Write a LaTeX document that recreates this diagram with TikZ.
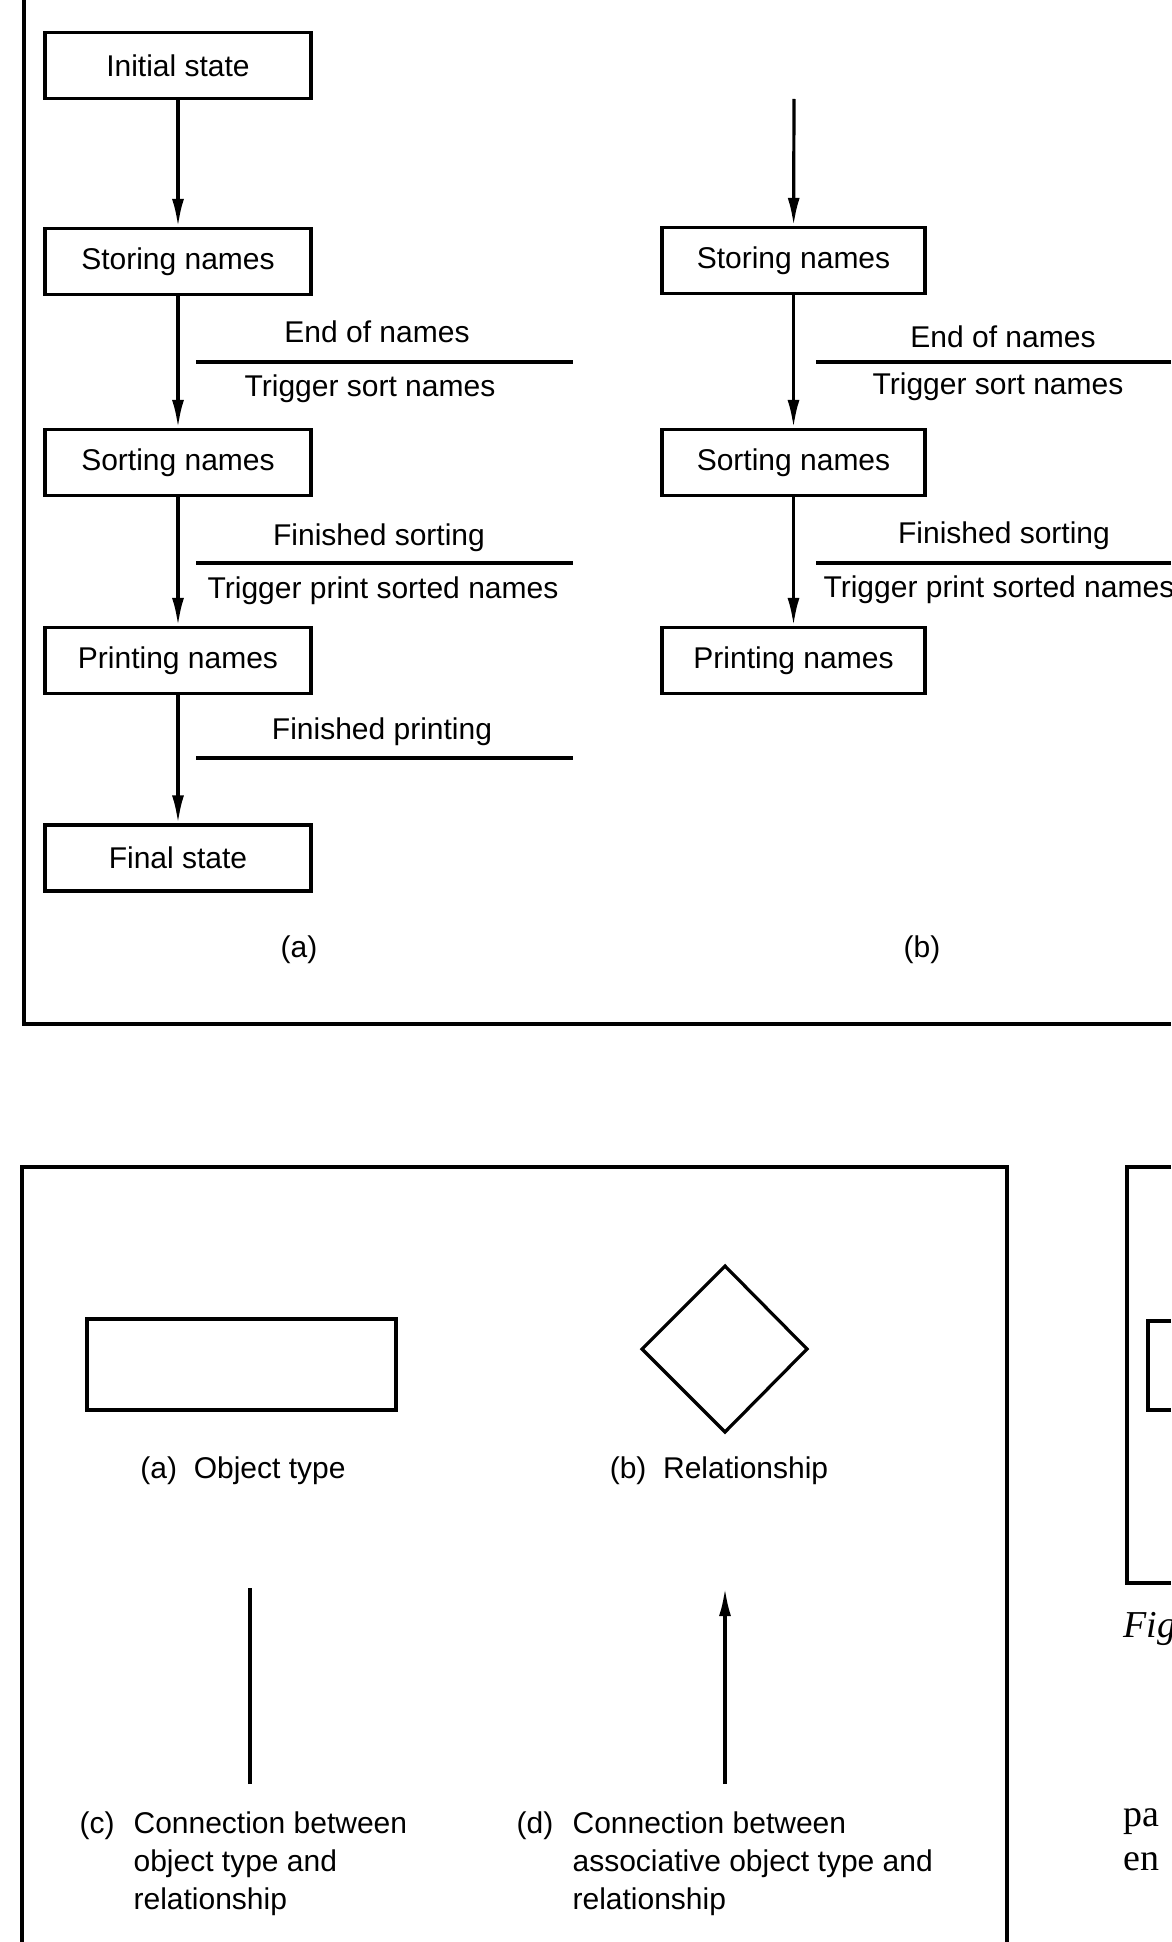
\documentclass[tikz,border=0pt]{standalone}
\usepackage{fontspec}
\setmainfont{Liberation Sans}
\newfontfamily\serif{Liberation Serif}
\usetikzlibrary{arrows.meta}
\begin{document}
\begin{tikzpicture}[x=1pt,y=-1pt,line width=3.2pt,
  every node/.style={font=\fontsize{30}{38}\selectfont},
  st/.style={draw,minimum height=66pt,inner sep=0pt},
  sa/.style={st,minimum width=266pt},
  sb/.style={st,minimum width=263pt},
  arr/.style={-{Latex[length=28pt,width=12pt]}},
  lbl/.style={inner sep=0pt,anchor=center},
  captxt/.style={inner sep=0pt,anchor=west,align=left}]
\useasboundingbox (0,0) rectangle (1171,1942);
\clip (0,0) rectangle (1171,1942);
% top frame
\draw (24,0) -- (24,1024) -- (1171,1024);
% column a
\node[sa] (a0) at (178,65.5) {Initial state};
\node[sa] (a1) at (178,261.5) {Storing names};
\node[sa] (a2) at (178,462.5) {Sorting names};
\node[sa] (a3) at (178,660.5) {Printing names};
\node[sa] (a4) at (178,858) {Final state};
\draw[arr] (a0) -- (a1);
\draw[arr] (a1) -- (a2);
\draw[arr] (a2) -- (a3);
\draw[arr] (a3) -- (a4);
\draw (196,362) -- (573,362);
\draw (196,563) -- (573,563);
\draw (196,758) -- (573,758);
\node[lbl] (t1) at (377,332) {End of names};
\node[lbl] (t2) at (370,389) {Trigger sort names};
\node[lbl] (t3) at (379,538) {Finished sorting};
\node[lbl] (t4) at (383,591) {Trigger print sorted names};
\node[lbl] (t5) at (382,732) {Finished printing};
\node[lbl] (ca) at (299,950) {(a)};
% column b
\coordinate (b0) at (794,99);
\node[sb] (b1) at (793.5,260.5) {Storing names};
\node[sb] (b2) at (793.5,462.5) {Sorting names};
\node[sb] (b3) at (793.5,660.5) {Printing names};
\draw[arr] (b0) -- (b1);
\draw[arr] (b1) -- (b2);
\draw[arr] (b2) -- (b3);
\draw (816,362) -- (1171,362);
\draw (816,563) -- (1171,563);
\node[lbl] (u1) at (1003,337) {End of names};
\node[lbl] (u2) at (998,387) {Trigger sort names};
\node[lbl] (u3) at (1004,536) {Finished sorting};
\node[inner sep=0pt,anchor=west] (u4) at (822,590) {Trigger print sorted names};
\node[lbl] (cb) at (922,950) {(b)};
% bottom frame
\draw (22,1942) -- (22,1167) -- (1007,1167) -- (1007,1942);
\node[draw,minimum width=309pt,minimum height=91pt,inner sep=0pt] (obj) at (241.5,1364.5) {};
\draw (725,1266) -- (807,1349) -- (725,1432) -- (642,1349) -- cycle;
\node[lbl] (la) at (243,1471) {(a)\ \ Object type};
\node[lbl] (lb) at (719,1471) {(b)\ \ Relationship};
\coordinate (c1) at (250,1588); \coordinate (c2) at (250,1784);
\draw (c2) -- (c1);
\coordinate (d1) at (725,1588); \coordinate (d2) at (725,1784);
\draw[arr] (d2) -- (d1);
\node[inner sep=0pt,anchor=west] (lc) at (78,1826) {(c)};
\node[captxt,anchor=north west] (lct) at (132,1810) {Connection between\\object type and\\relationship};
\node[inner sep=0pt,anchor=west] (ld) at (515,1826) {(d)};
\node[captxt,anchor=north west] (ldt) at (571,1810) {Connection between\\associative object type and\\relationship};
% right partial
\draw (1171,1167) -- (1127,1167) -- (1127,1583) -- (1171,1583);
\draw (1171,1321) -- (1148,1321) -- (1148,1410) -- (1171,1410);
\node[inner sep=0pt,anchor=west,font=\serif\itshape\fontsize{38}{40}\selectfont] (fig) at (1122,1629) {Fig};
\node[inner sep=0pt,anchor=west,font=\serif\fontsize{38}{40}\selectfont] (pa) at (1122,1822) {pa};
\node[inner sep=0pt,anchor=west,font=\serif\fontsize{38}{40}\selectfont] (en) at (1122,1862) {en};
\end{tikzpicture}
\end{document}
